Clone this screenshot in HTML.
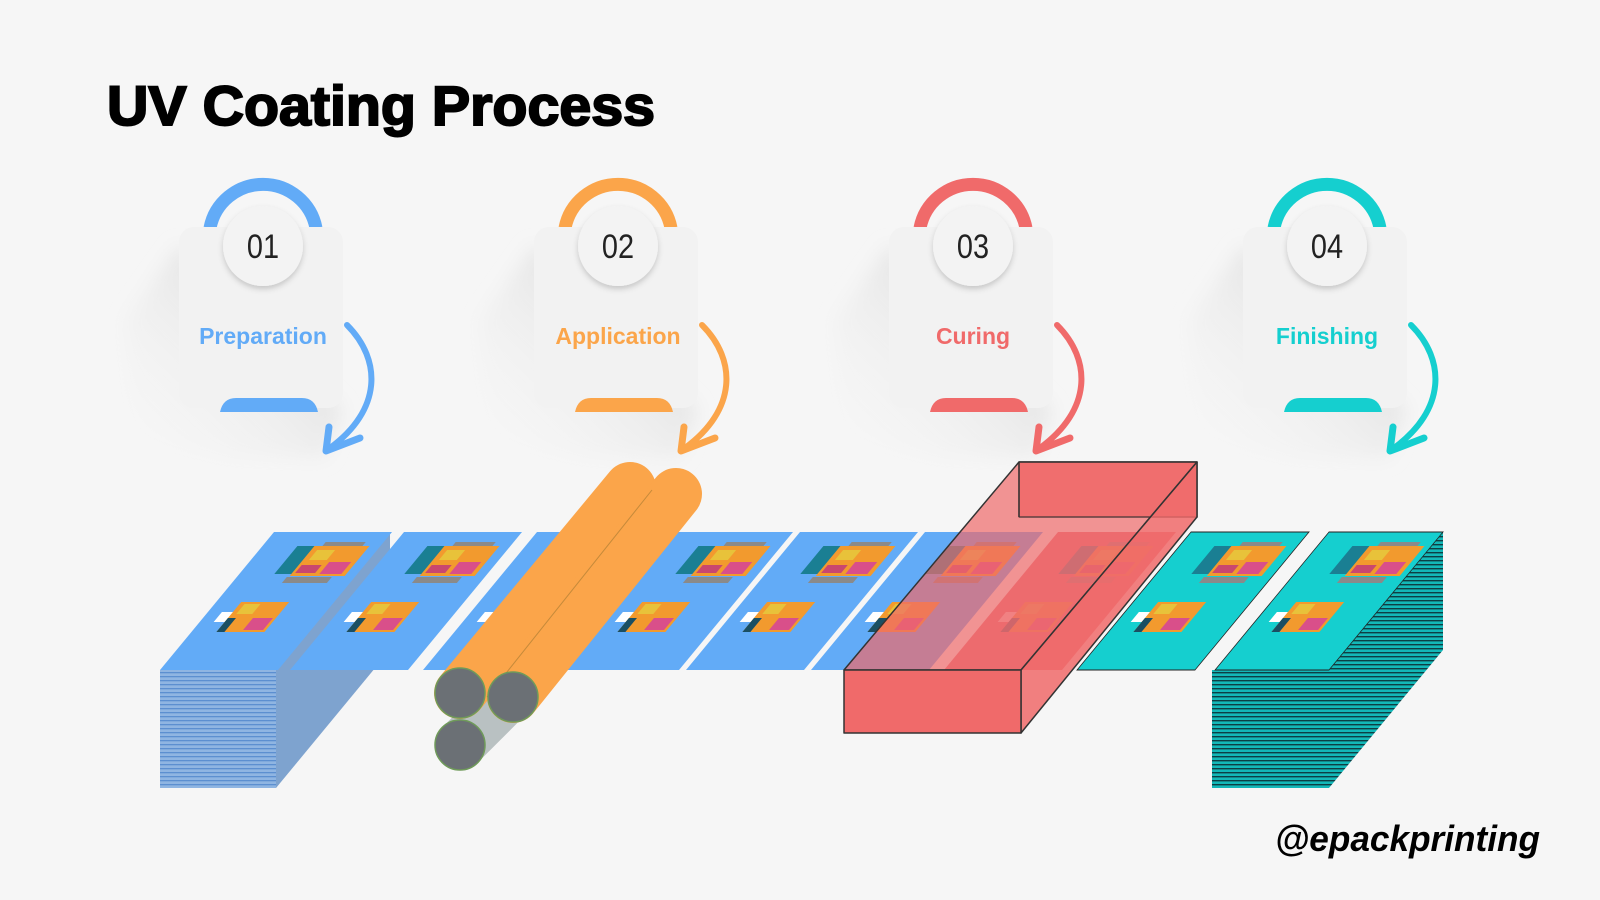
<!DOCTYPE html>
<html><head><meta charset="utf-8"><style>
html,body{margin:0;padding:0;background:#f6f6f6;}
svg{display:block}
</style></head><body>
<svg width="1600" height="900" viewBox="0 0 1600 900" xmlns="http://www.w3.org/2000/svg" font-family="Liberation Sans, sans-serif">
<defs>
<filter id="blur" x="-50%" y="-50%" width="200%" height="200%"><feGaussianBlur stdDeviation="9"/></filter>
<filter id="cs" x="-50%" y="-50%" width="200%" height="200%"><feDropShadow dx="0" dy="3" stdDeviation="3" flood-color="#000" flood-opacity="0.18"/></filter>
<linearGradient id="shg" x1="1" y1="0" x2="0" y2="1"><stop offset="0" stop-color="#cfcfcf"/><stop offset="1" stop-color="#f6f6f6" stop-opacity="0"/></linearGradient>
<pattern id="bstripe" width="4" height="4" patternUnits="userSpaceOnUse"><rect width="4" height="4" fill="#8fb5e2"/><rect width="4" height="1.3" fill="#5c8fd0"/></pattern>
<pattern id="tstripe" width="4" height="4" patternUnits="userSpaceOnUse"><rect width="4" height="4" fill="#13b8b8"/><rect width="4" height="1.4" fill="#0d3f44"/></pattern>
<g id="art">
  <rect x="60" y="10" width="40" height="5" fill="#8a8a8a"/>
  <rect x="35" y="14" width="18" height="28" fill="#1a7f93"/>
  <rect x="52" y="14" width="55" height="30" fill="#f29a2e"/>
  <rect x="58" y="18" width="18" height="10" fill="#e8c23a"/>
  <rect x="80" y="30" width="22" height="12" fill="#d94f8a"/>
  <rect x="55" y="33" width="20" height="8" fill="#c9476f"/>
  <rect x="50" y="45" width="45" height="6" fill="#8a8a8a"/>
  <rect x="14" y="80" width="12" height="10" fill="#fff"/>
  <rect x="25" y="70" width="48" height="30" fill="#f29a2e"/>
  <rect x="30" y="72" width="16" height="10" fill="#e8c23a"/>
  <rect x="50" y="86" width="20" height="12" fill="#d94f8a"/>
  <rect x="25" y="86" width="8" height="14" fill="#1a4f63"/>
</g>
<g id="cardbase">
  <polygon points="180,245 125,320 130,440 230,458 325,458 343,410" fill="url(#shg)" filter="url(#blur)"/>
</g>
</defs>
<rect width="1600" height="900" fill="#f6f6f6"/>

<text x="107" y="125" font-size="56" font-weight="bold" fill="#000" stroke="#000" stroke-width="2" textLength="548" lengthAdjust="spacingAndGlyphs">UV Coating Process</text>

<g>
  <use href="#cardbase"/>
  <path d="M210,228 A54 54 0 0 1 316,228" fill="none" stroke="#62abf7" stroke-width="13"/>
  <rect x="179" y="227" width="164" height="181" rx="15" fill="#f2f2f2"/>
  <circle cx="263" cy="246" r="40" fill="#f3f3f3" filter="url(#cs)"/>
  <text transform="translate(263,258) scale(0.85,1)" font-size="34" text-anchor="middle" fill="#222">01</text>
  <text x="263" y="344" font-size="23" font-weight="bold" text-anchor="middle" fill="#62abf7">Preparation</text>
  <path d="M220,412 Q223,398 236,398 H302 Q315,398 318,412 Z" fill="#62abf7"/>
  <path d="M347,325 C382,360 382,410 330,448" fill="none" stroke="#62abf7" stroke-width="6" stroke-linecap="round"/>
  <polyline points="329,427 326,451 360,438" fill="none" stroke="#62abf7" stroke-width="7" stroke-linecap="round" stroke-linejoin="round"/>
</g>
<g transform="translate(355,0)">
  <use href="#cardbase"/>
  <path d="M210,228 A54 54 0 0 1 316,228" fill="none" stroke="#fba54a" stroke-width="13"/>
  <rect x="179" y="227" width="164" height="181" rx="15" fill="#f2f2f2"/>
  <circle cx="263" cy="246" r="40" fill="#f3f3f3" filter="url(#cs)"/>
  <text transform="translate(263,258) scale(0.85,1)" font-size="34" text-anchor="middle" fill="#222">02</text>
  <text x="263" y="344" font-size="23" font-weight="bold" text-anchor="middle" fill="#fba54a">Application</text>
  <path d="M220,412 Q223,398 236,398 H302 Q315,398 318,412 Z" fill="#fba54a"/>
  <path d="M347,325 C382,360 382,410 330,448" fill="none" stroke="#fba54a" stroke-width="6" stroke-linecap="round"/>
  <polyline points="329,427 326,451 360,438" fill="none" stroke="#fba54a" stroke-width="7" stroke-linecap="round" stroke-linejoin="round"/>
</g>
<g transform="translate(710,0)">
  <use href="#cardbase"/>
  <path d="M210,228 A54 54 0 0 1 316,228" fill="none" stroke="#f06a6a" stroke-width="13"/>
  <rect x="179" y="227" width="164" height="181" rx="15" fill="#f2f2f2"/>
  <circle cx="263" cy="246" r="40" fill="#f3f3f3" filter="url(#cs)"/>
  <text transform="translate(263,258) scale(0.85,1)" font-size="34" text-anchor="middle" fill="#222">03</text>
  <text x="263" y="344" font-size="23" font-weight="bold" text-anchor="middle" fill="#f06a6a">Curing</text>
  <path d="M220,412 Q223,398 236,398 H302 Q315,398 318,412 Z" fill="#f06a6a"/>
  <path d="M347,325 C382,360 382,410 330,448" fill="none" stroke="#f06a6a" stroke-width="6" stroke-linecap="round"/>
  <polyline points="329,427 326,451 360,438" fill="none" stroke="#f06a6a" stroke-width="7" stroke-linecap="round" stroke-linejoin="round"/>
</g>
<g transform="translate(1064,0)">
  <use href="#cardbase"/>
  <path d="M210,228 A54 54 0 0 1 316,228" fill="none" stroke="#15cfcf" stroke-width="13"/>
  <rect x="179" y="227" width="164" height="181" rx="15" fill="#f2f2f2"/>
  <circle cx="263" cy="246" r="40" fill="#f3f3f3" filter="url(#cs)"/>
  <text transform="translate(263,258) scale(0.85,1)" font-size="34" text-anchor="middle" fill="#222">04</text>
  <text x="263" y="344" font-size="23" font-weight="bold" text-anchor="middle" fill="#15cfcf">Finishing</text>
  <path d="M220,412 Q223,398 236,398 H302 Q315,398 318,412 Z" fill="#15cfcf"/>
  <path d="M347,325 C382,360 382,410 330,448" fill="none" stroke="#15cfcf" stroke-width="6" stroke-linecap="round"/>
  <polyline points="329,427 326,451 360,438" fill="none" stroke="#15cfcf" stroke-width="7" stroke-linecap="round" stroke-linejoin="round"/>
</g>

<rect x="160" y="670" width="116" height="118" fill="url(#bstripe)"/>
<polygon points="276,670 390,532 390,650 276,788" fill="#7ea3cf"/>

<rect x="1212" y="670" width="117" height="118" fill="url(#tstripe)"/>
<polygon points="1329,670 1443,532 1443,650 1329,788" fill="url(#tstripe)"/>

<g transform="matrix(1,0,-0.826,1,274,532)"><rect width="118" height="138" fill="#62abf7"/><use href="#art"/></g>
<g transform="matrix(1,0,-0.826,1,404,532)"><rect width="118" height="138" fill="#62abf7"/><use href="#art"/></g>
<g transform="matrix(1,0,-0.826,1,537,532)"><rect width="118" height="138" fill="#62abf7"/><use href="#art"/></g>
<g transform="matrix(1,0,-0.826,1,675,532)"><rect width="118" height="138" fill="#62abf7"/><use href="#art"/></g>
<g transform="matrix(1,0,-0.826,1,800,532)"><rect width="118" height="138" fill="#62abf7"/><use href="#art"/></g>
<g transform="matrix(1,0,-0.826,1,925,532)"><rect width="118" height="138" fill="#62abf7"/><use href="#art"/></g>
<g transform="matrix(1,0,-0.826,1,1058,532)"><rect width="118" height="138" fill="#e8707a"/><use href="#art" opacity="0.5"/></g>
<g transform="matrix(1,0,-0.826,1,1191,532)"><rect width="118" height="138" fill="#15cfcf" stroke="#222" stroke-width="1"/><use href="#art"/></g>
<g transform="matrix(1,0,-0.826,1,1329,532)"><rect width="114" height="138" fill="#15cfcf" stroke="#222" stroke-width="1"/><use href="#art"/></g>

<line x1="460" y1="745" x2="505" y2="700" stroke="#b9c1c2" stroke-width="50"/>
<circle cx="460" cy="745" r="25" fill="#6b7075" stroke="#6f9a5a" stroke-width="1.5"/>
<line x1="460" y1="693" x2="630" y2="488" stroke="#fba54a" stroke-width="52" stroke-linecap="round"/>
<circle cx="460" cy="693" r="25" fill="#6b7075" stroke="#6f9a5a" stroke-width="1.5"/>
<line x1="513" y1="697" x2="676" y2="494" stroke="#fba54a" stroke-width="52" stroke-linecap="round"/>
<line x1="487" y1="697" x2="652" y2="490" stroke="#c58a3a" stroke-width="1"/>
<circle cx="513" cy="697" r="25" fill="#6b7075" stroke="#6f9a5a" stroke-width="1.5"/>

<g stroke="#333" stroke-width="1.5" stroke-linejoin="round">
  <polygon points="1019,462 1197,462 1197,517 1019,517" fill="#f06a6a" fill-opacity="0.9"/>
  <polygon points="844,670 1019,462 1197,462 1021,670" fill="#f06a6a" fill-opacity="0.7"/>
  <polygon points="1021,670 1197,462 1197,517 1021,733" fill="#f06a6a" fill-opacity="0.85"/>
  <polygon points="844,670 1021,670 1021,733 844,733" fill="#f06a6a"/>
  <line x1="1019" y1="462" x2="1019" y2="517"/>
  <line x1="1019" y1="517" x2="1151" y2="517" stroke-width="1"/>
</g>

<text x="1275" y="851" font-size="36" font-weight="bold" font-style="italic" fill="#000" textLength="265" lengthAdjust="spacingAndGlyphs">@epackprinting</text>
</svg>
</body></html>
